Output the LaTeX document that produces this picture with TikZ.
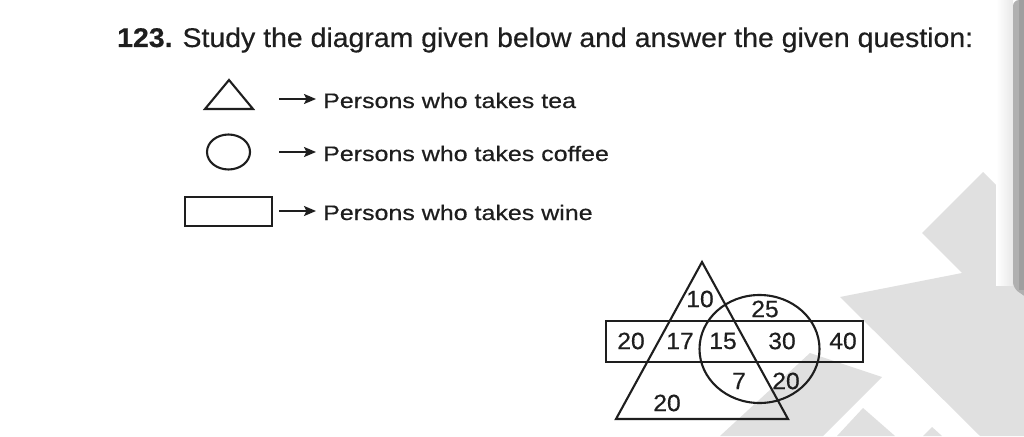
\documentclass[tikz,border=0pt]{standalone}
\usepackage{fontspec}
\setmainfont{Liberation Sans}
\newfontfamily\heavysans{Liberation Sans}[FakeBold=0.45]
\usetikzlibrary{arrows.meta}
\definecolor{ink}{HTML}{1E1E1E}
\definecolor{wm}{HTML}{E0E0E0}
\tikzset{
  shapeline/.style={draw=ink, line width=2.1pt},
  legtext/.style={anchor=base west, inner sep=0pt, text=ink, font=\heavysans\fontsize{21}{24}\selectfont},
  legarrow/.style={draw=ink, line width=2.1pt, -{Stealth[length=12pt,width=10pt,inset=2.5pt]}, shorten >=7pt},
  num/.style={inner sep=0pt, text=ink, font=\heavysans\fontsize{23.5}{26}\selectfont},
  wmark/.style={fill=wm, draw=none}
}
\newcommand{\wide}[1]{\scalebox{1.19}[1]{#1}}
\newcommand{\nm}[1]{\scalebox{1.05}[1]{#1}}
\begin{document}
\begin{tikzpicture}[x=1pt, y=-1pt]
\useasboundingbox (0,0) rectangle (1024,436);
\fill[white] (0,0) rectangle (1024,436);
% watermark
\fill[wmark] (983,172) -- (922,233) -- (962,273) -- (840,297) -- (980,436) -- (1024,436) -- (1024,213) -- cycle;
\fill[wmark] (720,436) -- (810,353) -- (882,377) -- (823,436) -- cycle;
\fill[wmark] (863,408) -- (837,436) -- (895,436) -- cycle;
\fill[wmark] (932,427) -- (923,436) -- (942,436) -- cycle;
\shade[left color=white, right color=gray!18] (996,0) rectangle (1013,285);
\fill[gray!62, rounded corners=6pt] (1013,0) -- (1013,288) -- (1030,300) -- (1030,0) -- cycle;
\fill[gray!75] (1019,0) rectangle (1024,290);

% title
\node[anchor=base west, inner sep=0pt, text=ink] (title) at (117,47)
  {\resizebox{856pt}{\height}{\heavysans\fontsize{27}{30}\selectfont\textbf{123.}\hspace{0.35em}Study the diagram given below and answer the given question:}};

% legend
\draw[shapeline, line join=miter] (205,109) -- (253,109) -- (229,80) -- cycle;
\node[legtext] (t1) at (323,108) {\wide{Persons who takes tea}};
\coordinate (a1) at (279,99);
\draw[legarrow] (a1) -- (a1 -| t1.west);

\draw[shapeline] (228.5,152) ellipse [x radius=21.5, y radius=17.5];
\node[legtext] (t2) at (323,161) {\wide{Persons who takes coffee}};
\coordinate (a2) at (279,152);
\draw[legarrow] (a2) -- (a2 -| t2.west);

\draw[shapeline] (185,197) rectangle (272,226);
\node[legtext] (t3) at (323,220) {\wide{Persons who takes wine}};
\coordinate (a3) at (279,211);
\draw[legarrow] (a3) -- (a3 -| t3.west);

% Venn diagram
\coordinate (TA) at (702,262);
\coordinate (TL) at (616,419);
\coordinate (TR) at (788,419);
\draw[shapeline, line join=miter] (TA) -- (TL) -- (TR) -- cycle;
\draw[shapeline] (606,321) rectangle (863,362);
\draw[shapeline] (759.5,349) ellipse [x radius=60, y radius=54];

\node[num] (n20a) at (631,341) {\nm{20}};
\node[num] (n17) at (680,341) {\nm{17}};
\node[num] (n15) at (723,341) {\nm{15}};
\node[num] (n30) at (782,341) {\nm{30}};
\node[num] (n40) at (843,341) {\nm{40}};
\node[num] (n10) at (700,299) {\nm{10}};
\node[num] (n25) at (765,309) {\nm{25}};
\node[num] (n7) at (739,381) {\nm{7}};
\node[num] (n20b) at (786,381) {\nm{20}};
\node[num] (n20c) at (667,403) {\nm{20}};
\end{tikzpicture}
\end{document}
